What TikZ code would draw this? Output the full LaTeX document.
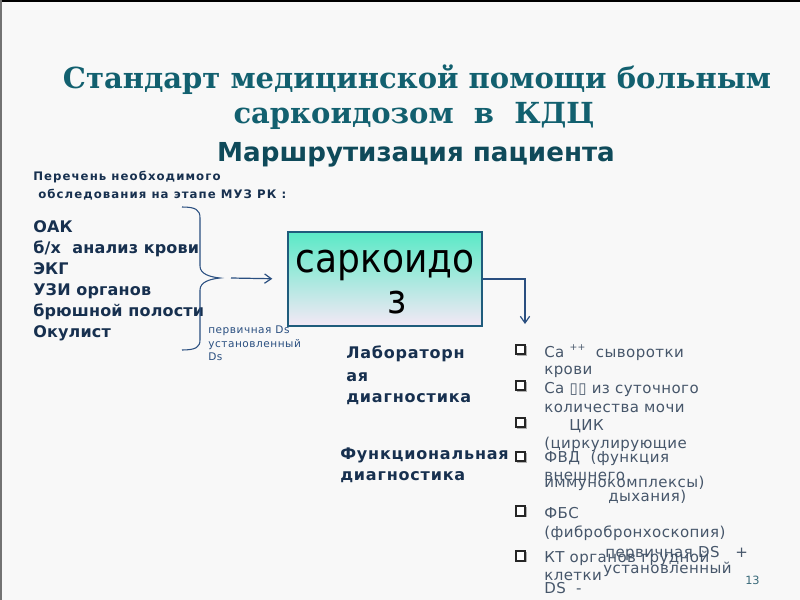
\documentclass[tikz,border=0pt]{standalone}
\usepackage{fontspec}
\setmainfont{DejaVu Sans}
\newfontfamily\titlefont{DejaVu Serif}
\newfontfamily\spfont{DejaVu Sans}[LetterSpace=9]
\newfontfamily\lsfont{DejaVu Sans}[LetterSpace=5]
\newfontfamily\lstfont{DejaVu Sans}[LetterSpace=1]
\newfontfamily\bulfont{DejaVu Sans}[LetterSpace=3]
\newfontfamily\boxfont{DejaVu Sans}[FakeStretch=0.9]
\usetikzlibrary{arrows.meta,shadows}
\definecolor{bgc}{HTML}{F8F8F8}
\definecolor{ttlc}{HTML}{12606F}
\definecolor{subc}{HTML}{0F4A5A}
\definecolor{navy}{HTML}{17304F}
\definecolor{bulc}{HTML}{46566A}
\definecolor{linec}{HTML}{2A4F80}
\definecolor{boxline}{HTML}{1F5C7C}
\definecolor{boxtop}{HTML}{5AE9C6}
\definecolor{boxbot}{HTML}{F4E8F6}
\definecolor{numc}{HTML}{3A6A7A}
\tikzset{
  ttl/.style={inner sep=0pt, anchor=base, text=ttlc, font=\titlefont\bfseries\fontsize{21.75pt}{26pt}\selectfont},
  subttl/.style={inner sep=0pt, anchor=base, text=subc, font=\bfseries\fontsize{19.6pt}{23pt}\selectfont},
  small/.style={inner sep=0pt, anchor=base west, text=navy, font=\spfont\bfseries\fontsize{8.8pt}{10pt}\selectfont},
  lst/.style={inner sep=0pt, anchor=base west, text=navy, font=\lstfont\bfseries\fontsize{12pt}{14pt}\selectfont},
  diag/.style={inner sep=0pt, anchor=base west, text=navy, font=\lsfont\bfseries\fontsize{12pt}{14pt}\selectfont},
  note/.style={inner sep=0pt, anchor=base west, text=linec, font=\lsfont\fontsize{7.9pt}{9pt}\selectfont},
  btxt/.style={inner sep=0pt, anchor=base west, text=bulc, font=\bulfont\fontsize{11.25pt}{14pt}\selectfont},
  bigtxt/.style={inner sep=0pt, anchor=base, text=black, font=\boxfont\fontsize{30pt}{36pt}\selectfont},
  bul/.style={draw=black!85, line width=1.3pt, fill=white, minimum size=7.2pt, inner sep=0pt,
    drop shadow={shadow xshift=0.9pt, shadow yshift=-0.9pt, opacity=0.6}},
  arr/.style={draw=linec, line width=0.9pt, -{Straight Barb[length=5pt,width=7pt]}},
  sbox/.style={draw=boxline, line width=1.6pt, top color=boxtop, bottom color=boxbot, middle color=boxtop!50!boxbot,
    minimum width=145.5pt, minimum height=70.5pt, inner sep=0pt}
}
\begin{document}
\begin{tikzpicture}[x=0.75pt,y=-0.75pt]
\useasboundingbox (0,0) rectangle (800,600);
\fill[bgc] (0,0) rectangle (800,600);
\fill[black] (0,0) rectangle (800,2);
\fill[black!55] (0,0) rectangle (1.5,600);

% titles
\node[ttl] (t1) at (417,88) {Стандарт медицинской помощи больным};
\node[ttl] (t2) at (414,123) {саркоидозом\ \ в\ \ КДЦ};
\node[subttl] (t3) at (416,161) {Маршрутизация пациента};

% left block
\node[small] (p1) at (33,180) {Перечень необходимого};
\node[small] (p2) at (38,198) {обследования на этапе МУЗ РК :};
\node[lst] (l1) at (33,232) {ОАК};
\node[lst] (l2) at (33,253) {б/х\ \ анализ крови};
\node[lst] (l3) at (33,274) {ЭКГ};
\node[lst] (l4) at (33,295) {УЗИ органов};
\node[lst] (l5) at (33,316) {брюшной полости};
\node[lst] (l6) at (33,337) {Окулист};

% brace
\draw[linec, line width=0.8pt]
  (182,207) .. controls (196,207) and (200,210) .. (200,218) -- (200,266)
  .. controls (200,274) and (210,277) .. (220,278)
  .. controls (210,279) and (200,282) .. (200,290) -- (200,340)
  .. controls (200,347) and (196,350) .. (182,350);

% central box
\node[sbox] (box) at (385,279) {};
\node[bigtxt] (bt1) at (385,272) {саркоидо};
\node[bigtxt] (bt2) at (397,313) {з};

\coordinate (ca) at (231,278);
\draw[arr, shorten >=11pt] (ca) -- (box.west);
\coordinate (cb) at (525,324);
\draw[arr] (box.east) -| (cb);

\node[note] (n1) at (208,333) {первичная Ds};
\node[note] (n2) at (208,347) {установленный};
\node[note] (n3) at (208,360) {Ds};

\node[diag] (d1) at (346,358) {Лабораторн};
\node[diag] (d2) at (346,381) {ая};
\node[diag] (d3) at (346,402) {диагностика};
\node[diag] (f1) at (340,459) {Функциональная};
\node[diag] (f2) at (340,480) {диагностика};

% bullets
\node[bul] (b1) at (520.5,349.5) {};
\node[bul] (b2) at (520.5,385.5) {};
\node[bul] (b3) at (520.5,422.5) {};
\node[bul] (b4) at (520.5,456.5) {};
\node[bul] (b5) at (520.5,511) {};
\node[bul] (b6) at (520.5,556) {};

\node[btxt] (x1) at (544,357) {Са \raisebox{0.45em}{\fontsize{7pt}{8pt}\selectfont ++}\ \ сыворотки};
\node[btxt] (x2) at (544,374) {крови};
\node[btxt] (x3) at (544,393) {Са ▯▯ из суточного};
\node[btxt] (x4) at (544,412) {количества мочи};
\node[btxt] (x5) at (569,430) {ЦИК};
\node[btxt] (x6) at (544,448) {(циркулирующие};
\node[btxt] (x7) at (544,462) {ФВД\ \ (функция};
\node[btxt] (x8) at (544,480) {внешнего};
\node[btxt] (x9) at (544,487) {иммунокомплексы)};
\node[btxt] (x10) at (608,501) {дыхания)};
\node[btxt] (x11) at (544,518) {ФБС};
\node[btxt] (x12) at (544,537) {(фибробронхоскопия)};
\node[btxt] (x13) at (544,562) {КТ органов грудной};
\node[btxt] (x14) at (544,580) {клетки};
\node[btxt] (x15) at (605,557) {первичная DS\ \ \ +};
\node[btxt] (x16) at (603,573) {установленный};
\node[btxt] (x17) at (544,593) {DS\ \ -};
\node[inner sep=0pt, anchor=base west, text=numc, font=\fontsize{8.5pt}{10pt}\selectfont] (pg) at (745,584) {13};
\end{tikzpicture}
\end{document}
